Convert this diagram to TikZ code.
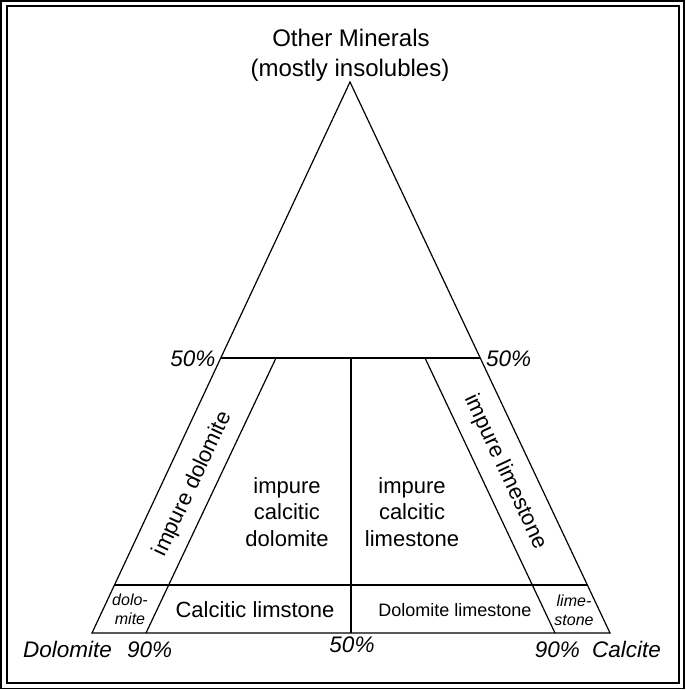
\documentclass[tikz,border=0pt]{standalone}
\usepackage{fontspec}
\setmainfont{Liberation Sans}
\begin{document}
\begin{tikzpicture}[x=1pt,y=-1pt,
  frame/.style={line width=1.8pt},
  edge/.style={line width=1.2pt, line join=miter},
  ttl/.style={font=\fontsize{24}{28}\selectfont, inner sep=0pt},
  pct/.style={font=\fontsize{22.5}{26}\selectfont\itshape, inner sep=0pt},
  lbl/.style={font=\fontsize{22}{26.5}\selectfont, inner sep=0pt, align=center},
  smalllbl/.style={font=\fontsize{18}{22}\selectfont, inner sep=0pt, align=center},
  tinylbl/.style={font=\fontsize{16}{19}\selectfont\itshape, inner sep=0pt, align=center}]
\useasboundingbox (0,0) rectangle (685,690);
% frames
\draw[frame] (1,1) rectangle (684,688.5);
\draw[frame] (7,6) rectangle (679,683);
% triangle
\coordinate (A) at (350,82);
\coordinate (D) at (92,633);
\coordinate (C) at (610,633);
\coordinate (L50) at (220.5,358);
\coordinate (R50) at (479.5,358);
\coordinate (L90t) at (276,358);
\coordinate (L90b) at (146,633);
\coordinate (R90t) at (425,358);
\coordinate (R90b) at (555,633);
\coordinate (Mt) at (351,358);
\coordinate (Mb) at (351,633);
\coordinate (H1) at (114.5,585);
\coordinate (H2) at (587.5,585);
\draw[edge] (A) -- (D) -- (C) -- cycle;
\draw[edge] (L50) -- (R50);
\draw[edge] (L90t) -- (L90b);
\draw[edge] (R90t) -- (R90b);
\draw[edge] (Mt) -- (Mb);
\draw[edge] (H1) -- (H2);
% title
\node[ttl, anchor=base] (t1) at (351,46.5) {Other Minerals};
\node[ttl, anchor=base] (t2) at (350,76.5) {(mostly insolubles)};
% 50% labels
\node[pct, anchor=base east] (p50l) at (215.5,366) {50\%};
\node[pct, anchor=base west] (p50r) at (486,366) {50\%};
% strip labels
\node[lbl, rotate=64.9] (idol) at (193,484) {impure dolomite};
\node[lbl, rotate=-64.9] (ilim) at (505,472) {impure limestone};
% central labels
\node[lbl] (icd) at (287,512) {impure\\calcitic\\dolomite};
\node[lbl] (icl) at (412,512) {impure\\calcitic\\limestone};
% bottom row
\node[lbl] (cl) at (255,610) {Calcitic limstone};
\node[smalllbl] (dl) at (455,610) {Dolomite limestone};
\node[tinylbl] (dm) at (130,609) {dolo-\\mite};
\node[tinylbl] (ls) at (574,610) {lime-\\stone};
% corner labels
\node[pct, anchor=base east] (dol) at (112,657) {Dolomite};
\node[pct, anchor=base west] (p90l) at (127,657) {90\%};
\node[pct, anchor=base] (p50b) at (352,652) {50\%};
\node[pct, anchor=base east] (p90r) at (580,657) {90\%};
\node[pct, anchor=base west] (cal) at (592,657) {Calcite};
\end{tikzpicture}
\end{document}
